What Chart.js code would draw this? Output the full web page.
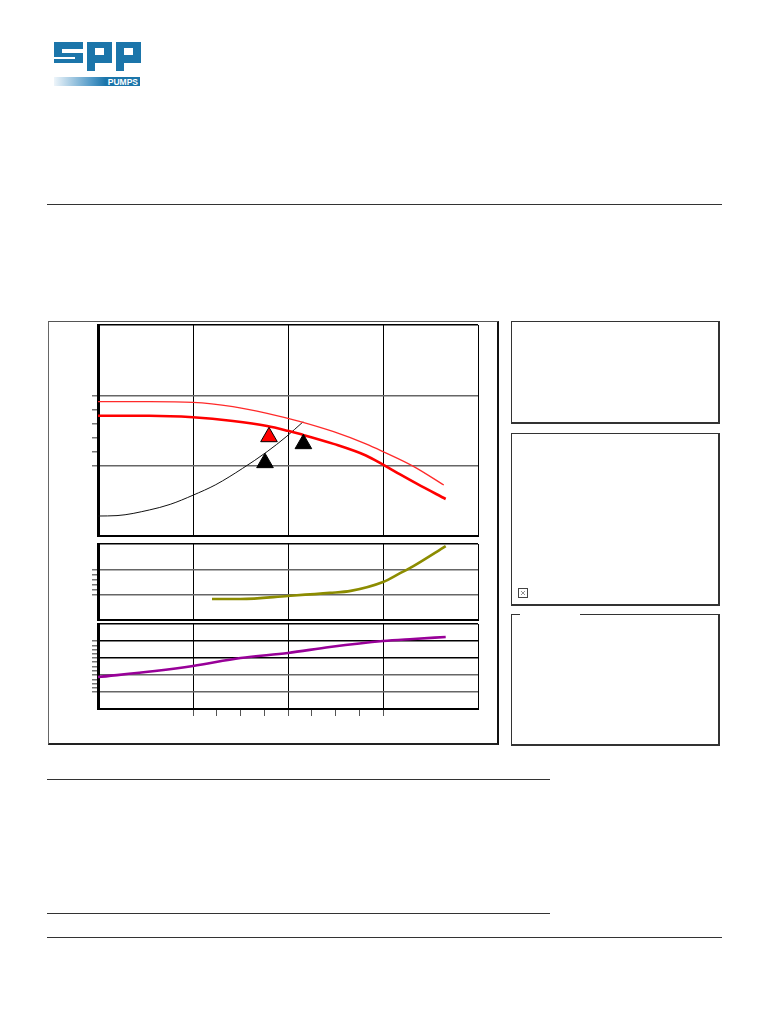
<!DOCTYPE html>
<html>
<head>
<meta charset="utf-8">
<script src="https://cdn.jsdelivr.net/npm/chart.js@4.4.1/dist/chart.umd.min.js"></script>
<style>
  body { margin: 0; background: #fff; font-family: "Liberation Sans", Arial, sans-serif; }
  .page { position: relative; width: 768px; height: 1024px; overflow: hidden; }
  .rule { position: absolute; height: 0; border-top: 1px solid #333; }
  .box { position: absolute; box-sizing: border-box; }
  canvas { position: absolute; }
</style>
</head>
<body>
<div class="page">
  <!-- logo -->
  <svg style="position:absolute;left:50px;top:38px" width="95" height="52" viewBox="0 0 95 52">
    <defs>
      <linearGradient id="fade" x1="0" x2="1" y1="0" y2="0">
        <stop offset="0" stop-color="#eef5fa"/>
        <stop offset="0.45" stop-color="#4d97c6"/>
        <stop offset="0.6" stop-color="#1b75aa"/>
        <stop offset="1" stop-color="#1b75aa"/>
      </linearGradient>
    </defs>
    <g fill="#1b75aa">
      <rect x="4" y="4" width="29" height="7"/>
      <rect x="4" y="11" width="8" height="4"/>
      <rect x="4" y="15" width="29" height="4"/>
      <rect x="25" y="19" width="8" height="2"/>
      <rect x="4" y="21" width="29" height="4"/>
      <path d="M37 4h25v21h-17v8h-8z M45 10v7h9v-7z" fill-rule="evenodd"/>
      <path d="M66 4h25v21h-17v8h-8z M74 10v7h9v-7z" fill-rule="evenodd"/>
    </g>
    <rect x="4" y="39" width="86" height="9" fill="url(#fade)"/>
    <text x="88" y="47" text-anchor="end" fill="#fff" font-size="8.5" font-weight="bold"
          font-family="Liberation Sans, Arial, sans-serif">PUMPS</text>
  </svg>

  <div class="rule" style="left:47px;top:204px;width:675px"></div>

  <!-- chart frame -->
  <div class="box" style="left:48px;top:321px;width:451px;height:424px;border-left:1px solid #666;border-top:1px solid #555;border-right:2px solid #111;border-bottom:2px solid #222"></div>
  <canvas id="headChart" width="450" height="217" style="left:48px;top:321px"></canvas>
  <canvas id="powerChart" width="450" height="82" style="left:48px;top:540px"></canvas>
  <canvas id="effChart" width="450" height="122" style="left:48px;top:622px"></canvas>

  <!-- side panels -->
  <div class="box" style="left:511px;top:321px;width:209px;height:103px;border:1px solid #333;border-right-width:2px;border-bottom-width:2px"></div>
  <div class="box" style="left:511px;top:433px;width:209px;height:173px;border:1px solid #333;border-right-width:2px;border-bottom-width:2px"></div>
  <svg style="position:absolute;left:518px;top:588px" width="10" height="10" viewBox="0 0 10 10">
    <rect x="0.5" y="0.5" width="9" height="9" fill="#fff" stroke="#444"/>
    <path d="M3 3l4 4M7 3l-4 4" stroke="#777" stroke-width="0.8"/>
  </svg>
  <div class="box" style="left:511px;top:614px;width:209px;height:132px;border:1px solid #333;border-top:none;border-right-width:2px;border-bottom-width:2px"></div>
  <div class="rule" style="left:511px;top:614px;width:9px"></div>
  <div class="rule" style="left:580px;top:614px;width:140px"></div>

  <div class="rule" style="left:47px;top:779px;width:503px"></div>
  <div class="rule" style="left:47px;top:913px;width:503px"></div>
  <div class="rule" style="left:47px;top:937px;width:675px"></div>
</div>

<script>
// pump curves (flow along x, 0-200; head 0-30)
const flowMax = [0, 27, 50, 71, 89, 106, 124, 141, 150, 166, 182];
const headMax = [19.1, 19.1, 19.0, 18.4, 17.45, 16.3, 14.83, 13.1, 12.0, 9.9, 7.25];

const flowDuty = [0, 27, 50, 71, 89, 100, 107, 124, 141, 150, 159, 168, 183];
const headDuty = [17.1, 17.1, 16.88, 16.35, 15.64, 14.95, 14.45, 13.1, 11.45, 10.15, 8.75, 7.4, 5.26];

const flowSystem = [0, 10, 27, 38, 50, 62, 76, 89, 99, 108];
const headSystem = [2.84, 2.9, 3.7, 4.5, 5.8, 7.3, 9.6, 11.99, 14.1, 16.25];

const markerFlow = [90, 87.9, 108.1];
const markerHead = [14.09, 10.4, 13.1];
const markerColor = ['#ff0000', '#000000', '#000000'];

// power panel (0-30)
const flowPower = [60, 75, 100, 122, 133, 150, 159, 166, 183];
const power = [8.3, 8.3, 9.5, 10.7, 11.5, 15.0, 18.5, 21.3, 29.2];

// efficiency panel (0-100)
const flowEff = [0, 30, 50, 75, 100, 122, 150, 166, 183];
const efficiency = [37.6, 44.7, 50.6, 60, 65.9, 72.9, 80, 82.4, 84.7];

const pts = (xs, ys) => xs.map((x, i) => ({ x: x, y: ys[i] }));

function xScale(height, minorTicks) {
  return {
    type: 'linear', min: 0, max: 200,
    ticks: { display: false, stepSize: minorTicks ? 12.5 : 50, maxTicksLimit: 100 },
    grid: {
      color: c => (c.tick.value % 50 === 0 && c.tick.value > 0 ? '#000' : 'transparent'),
      tickColor: c => (c.tick.value >= 50 && c.tick.value <= 150 ? '#555' : 'transparent'),
      drawTicks: minorTicks, tickLength: 7, lineWidth: 1
    },
    border: { color: '#000', width: 2 },
    afterFit: s => { s.height = height; }
  };
}

function yScale(max, step, markFrom, markTo, gridColor) {
  return {
    type: 'linear', min: 0, max: max,
    ticks: { display: false, stepSize: step, maxTicksLimit: 100 },
    grid: {
      color: c => gridColor(c.tick.value),
      tickColor: c => (c.tick.value >= markFrom - 1e-6 && c.tick.value <= markTo + 1e-6 ? '#777' : 'transparent'),
      tickLength: 6, lineWidth: 1.5
    },
    border: { color: '#000', width: 3 },
    afterFit: s => { s.width = 50; }
  };
}

function line(data, color, width) {
  return {
    data: data, showLine: true, borderColor: color, borderWidth: width,
    pointRadius: 0, cubicInterpolationMode: 'monotone', fill: false
  };
}

function panel(id, datasets, padTop, xs, ys) {
  return new Chart(document.getElementById(id), {
    type: 'scatter',
    data: { datasets: datasets },
    options: {
      responsive: false, animation: false,
      layout: { autoPadding: false, padding: { top: padTop, right: 20, bottom: 0, left: 0 } },
      plugins: { legend: { display: false }, tooltip: { enabled: false } },
      scales: { x: xs, y: ys }
    }
  });
}

panel('headChart', [
  {
    data: pts(markerFlow, markerHead), showLine: false, pointStyle: 'triangle',
    pointRadius: 9.6, pointBackgroundColor: markerColor, pointBorderColor: '#000', pointBorderWidth: 1
  },
  line(pts(flowMax, headMax), '#ff2a2a', 1.3),
  line(pts(flowDuty, headDuty), '#ff0000', 2.6),
  line(pts(flowSystem, headSystem), '#111', 1)
], 4, xScale(2, false),
  yScale(30, 2, 10, 20, v => (v === 30 ? '#000' : (v === 10 || v === 20) ? '#666' : 'transparent')));

panel('powerChart', [
  line(pts(flowPower, power), '#8c8c00', 2.6)
], 4, xScale(2, false),
  yScale(30, 2, 10, 20, v => (v === 30 ? '#000' : (v === 10 || v === 20) ? '#666' : 'transparent')));

panel('effChart', [
  line(pts(flowEff, efficiency), '#980098', 2.6)
], 2, xScale(35, true),
  yScale(100, 5, 20, 80, v => (v === 100 || v === 80 || v === 60 ? '#000' : (v === 40 || v === 20) ? '#666' : 'transparent')));
</script>
</body>
</html>
